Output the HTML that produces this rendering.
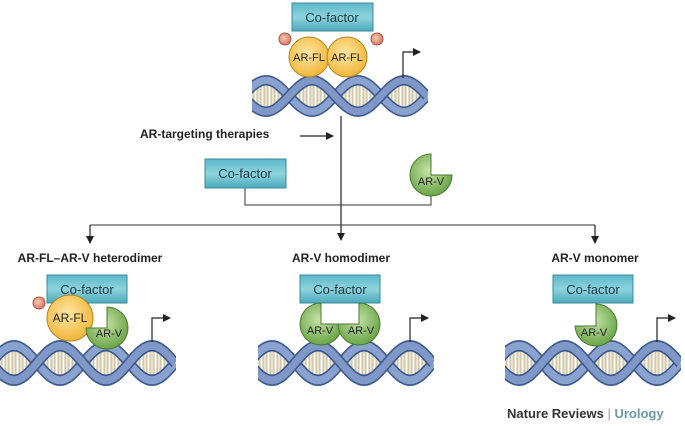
<!DOCTYPE html><html><head><style>body{margin:0;background:#fff}svg{display:block}</style></head><body>
<svg width="685" height="426" viewBox="0 0 685 426" xmlns="http://www.w3.org/2000/svg" font-family="Liberation Sans, sans-serif">
<defs>
<linearGradient id="cf" x1="0" y1="0" x2="0" y2="1"><stop offset="0" stop-color="#5bb8c8"/><stop offset=".5" stop-color="#8fd3de"/><stop offset="1" stop-color="#4aaabb"/></linearGradient>
<radialGradient id="yl" cx=".45" cy=".4" r=".6"><stop offset="0" stop-color="#fde7a0"/><stop offset="1" stop-color="#f2b63c"/></radialGradient>
<radialGradient id="gr" cx=".45" cy=".4" r=".6"><stop offset="0" stop-color="#c8e2a8"/><stop offset="1" stop-color="#6aa648"/></radialGradient>
<radialGradient id="rd" cx=".4" cy=".4" r=".6"><stop offset="0" stop-color="#f8c8b0"/><stop offset="1" stop-color="#d87a66"/></radialGradient>
<clipPath id="dc"><rect x="0" y="-5" width="176" height="50"/></clipPath>
<g id="rg" stroke="#9a8a66" stroke-width="0.6" fill="#ece2c8">
<rect x="-16" y="9" width="4" height="22"/><rect x="-9" y="4" width="4" height="32"/><rect x="-2" y="2" width="4" height="36"/><rect x="5" y="4" width="4" height="32"/><rect x="12" y="9" width="4" height="22"/>
</g>
<g id="dna" clip-path="url(#dc)">
<use href="#rg" x="14"/><use href="#rg" x="60"/><use href="#rg" x="106"/><use href="#rg" x="152"/>
<g fill="none">
<path d="M-9 20 c7.5 -7.7 14.6 -15 23 -15 c8.4 0 15.5 7.3 23 15 c7.5 7.7 14.6 15 23 15 c8.4 0 15.5 -7.3 23 -15 c7.5 -7.7 14.6 -15 23 -15 c8.4 0 15.5 7.3 23 15 c7.5 7.7 14.6 15 23 15 c8.4 0 15.5 -7.3 23 -15" stroke="#3d5a8e" stroke-width="10"/>
<path d="M-9 20 c7.5 -7.7 14.6 -15 23 -15 c8.4 0 15.5 7.3 23 15 c7.5 7.7 14.6 15 23 15 c8.4 0 15.5 -7.3 23 -15 c7.5 -7.7 14.6 -15 23 -15 c8.4 0 15.5 7.3 23 15 c7.5 7.7 14.6 15 23 15 c8.4 0 15.5 -7.3 23 -15" stroke="#8aa2cf" stroke-width="7"/>
<path d="M-9 20 c7.5 7.7 14.6 15 23 15 c8.4 0 15.5 -7.3 23 -15 c7.5 -7.7 14.6 -15 23 -15 c8.4 0 15.5 7.3 23 15 c7.5 7.7 14.6 15 23 15 c8.4 0 15.5 -7.3 23 -15 c7.5 -7.7 14.6 -15 23 -15 c8.4 0 15.5 7.3 23 15" stroke="#3d5a8e" stroke-width="10"/>
<path d="M-9 20 c7.5 7.7 14.6 15 23 15 c8.4 0 15.5 -7.3 23 -15 c7.5 -7.7 14.6 -15 23 -15 c8.4 0 15.5 7.3 23 15 c7.5 7.7 14.6 15 23 15 c8.4 0 15.5 -7.3 23 -15 c7.5 -7.7 14.6 -15 23 -15 c8.4 0 15.5 7.3 23 15" stroke="#7f98c8" stroke-width="7"/>
</g>
</g>
<marker id="ah" markerWidth="8" markerHeight="8" refX="7" refY="4" orient="auto" markerUnits="userSpaceOnUse"><path d="M0 0 L8 4 L0 8z" fill="#222"/></marker>
</defs>

<!-- top -->
<use href="#dna" transform="translate(252,75) scale(1,1.05)"/>
<path d="M403 78 V52 H420" fill="none" stroke="#222" stroke-width="1.2" marker-end="url(#ah)"/>
<rect x="292" y="3" width="81" height="28" fill="url(#cf)" stroke="#3a8a9a"/>
<text x="332" y="22" font-size="13" text-anchor="middle" fill="#1a3a44">Co-factor</text>
<circle cx="285" cy="39" r="6" fill="url(#rd)" stroke="#a05a4a"/>
<circle cx="377" cy="39" r="6" fill="url(#rd)" stroke="#a05a4a"/>
<circle cx="309" cy="57" r="20" fill="url(#yl)" stroke="#b08420"/>
<circle cx="347" cy="57" r="20" fill="url(#yl)" stroke="#b08420"/>
<text x="309" y="61" font-size="11" text-anchor="middle" fill="#222">AR-FL</text>
<text x="347" y="61" font-size="11" text-anchor="middle" fill="#222">AR-FL</text>

<!-- mid -->
<line x1="341" y1="116" x2="341" y2="240" stroke="#222" stroke-width="1.2" marker-end="url(#ah)"/>
<text x="140" y="138" font-size="12" font-weight="bold" fill="#222">AR-targeting therapies</text>
<line x1="300" y1="136" x2="333" y2="136" stroke="#222" stroke-width="1.2" marker-end="url(#ah)"/>
<path d="M245 188 V205 H431 V196" fill="none" stroke="#333" stroke-width="1"/>
<rect x="205" y="159" width="81" height="29" fill="url(#cf)" stroke="#3a8a9a"/>
<text x="245" y="178" font-size="13" text-anchor="middle" fill="#1a3a44">Co-factor</text>
<path d="M431 175 V154 A21 21 0 1 0 452 175 Z" fill="url(#gr)" stroke="#4a7a30"/>
<text x="431" y="185" font-size="11" text-anchor="middle" fill="#222">AR-V</text>
<line x1="90" y1="225" x2="595" y2="225" stroke="#333" stroke-width="1"/>
<line x1="90" y1="225" x2="90" y2="243" stroke="#222" stroke-width="1.2" marker-end="url(#ah)"/>
<line x1="595" y1="225" x2="595" y2="243" stroke="#222" stroke-width="1.2" marker-end="url(#ah)"/>
<text x="90" y="262" font-size="12" font-weight="bold" text-anchor="middle" fill="#222">AR-FL–AR-V heterodimer</text>
<text x="341" y="262" font-size="12" font-weight="bold" text-anchor="middle" fill="#222">AR-V homodimer</text>
<text x="595" y="262" font-size="12" font-weight="bold" text-anchor="middle" fill="#222">AR-V monomer</text>

<!-- bottom left -->
<use href="#dna" transform="translate(0,340) scale(1,1.15)"/>
<path d="M152 342 V318 H170" fill="none" stroke="#222" stroke-width="1.2" marker-end="url(#ah)"/>
<rect x="47" y="275" width="80" height="28" fill="url(#cf)" stroke="#3a8a9a"/>
<text x="87" y="294" font-size="13" text-anchor="middle" fill="#1a3a44">Co-factor</text>
<circle cx="39" cy="303" r="6" fill="url(#rd)" stroke="#a05a4a"/>
<circle cx="70" cy="318" r="23" fill="url(#yl)" stroke="#b08420"/>
<text x="70" y="322" font-size="12" text-anchor="middle" fill="#222">AR-FL</text>
<path d="M107 328 V307 A21 21 0 1 1 86 328 Z" fill="url(#gr)" stroke="#4a7a30"/>
<text x="109" y="337" font-size="11" text-anchor="middle" fill="#222">AR-V</text>

<!-- bottom mid -->
<use href="#dna" transform="translate(258,340) scale(1,1.15)"/>
<path d="M410 342 V318 H428" fill="none" stroke="#222" stroke-width="1.2" marker-end="url(#ah)"/>
<rect x="300" y="275" width="80" height="28" fill="url(#cf)" stroke="#3a8a9a"/>
<text x="340" y="294" font-size="13" text-anchor="middle" fill="#1a3a44">Co-factor</text>
<path d="M321 324 V303 A21 21 0 1 0 342 324 Z" fill="url(#gr)" stroke="#4a7a30"/>
<path d="M359 324 V303 A21 21 0 1 1 338 324 Z" fill="url(#gr)" stroke="#4a7a30"/>
<text x="320" y="334" font-size="11" text-anchor="middle" fill="#222">AR-V</text>
<text x="361" y="334" font-size="11" text-anchor="middle" fill="#222">AR-V</text>

<!-- bottom right -->
<use href="#dna" transform="translate(505,340) scale(1,1.15)"/>
<path d="M657 342 V318 H675" fill="none" stroke="#222" stroke-width="1.2" marker-end="url(#ah)"/>
<rect x="553" y="275" width="80" height="28" fill="url(#cf)" stroke="#3a8a9a"/>
<text x="593" y="294" font-size="13" text-anchor="middle" fill="#1a3a44">Co-factor</text>
<path d="M596 326 V304 A21 21 0 1 1 575 326 Z" fill="url(#gr)" stroke="#4a7a30"/>
<text x="594" y="336" font-size="11" text-anchor="middle" fill="#222">AR-V</text>

<text x="507" y="418" font-size="13" font-weight="bold" fill="#333">Nature Reviews <tspan fill="#999" font-weight="normal">|</tspan> <tspan fill="#6a9aa6">Urology</tspan></text>
</svg>
</body></html>
